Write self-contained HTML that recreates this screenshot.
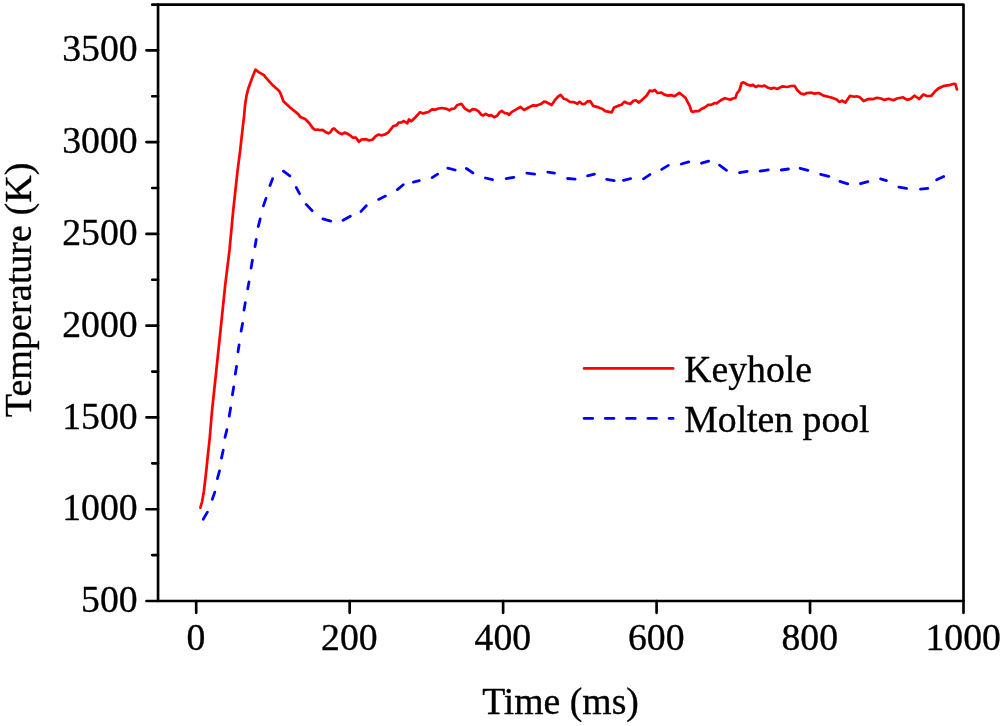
<!DOCTYPE html>
<html lang="en">
<head>
<meta charset="utf-8">
<title>Temperature vs Time</title>
<style>
html,body{margin:0;padding:0;background:#fff;}
body{width:1004px;height:726px;overflow:hidden;}
svg{display:block;}
text{font-family:"Liberation Serif","Times New Roman",serif;font-size:37.7px;fill:#000;stroke:#000;stroke-width:0.35px;stroke-linejoin:round;}
.ax{stroke:#000;stroke-width:2.667;fill:none;stroke-linecap:round;stroke-linejoin:round;}
.red{stroke:#ff0000;stroke-width:2.7;fill:none;stroke-linecap:round;stroke-linejoin:round;}
.blue{stroke:#0000ff;stroke-width:2.8;fill:none;stroke-linecap:round;stroke-linejoin:round;}
</style>
</head>
<body>
<svg width="1004" height="726" viewBox="0 0 1004 726">
<rect x="0" y="0" width="1004" height="726" fill="#ffffff"/>

<g class="ax">
<path d="M158.05 4.70 H963.50 V601.00 H158.05 Z"/>
<path d="M158.05 601.00H146.45M158.05 509.23H146.45M158.05 417.45H146.45M158.05 325.68H146.45M158.05 233.90H146.45M158.05 142.12H146.45M158.05 50.35H146.45M158.05 555.11H152.25M158.05 463.34H152.25M158.05 371.56H152.25M158.05 279.79H152.25M158.05 188.01H152.25M158.05 96.24H152.25M158.05 4.70H152.25M196.20 601.00V612.85M349.66 601.00V612.85M503.12 601.00V612.85M656.58 601.00V612.85M810.04 601.00V612.85M963.50 601.00V612.85"/>
</g>
<g text-anchor="end">
<text x="137.6" y="612.10">500</text>
<text x="137.6" y="520.33">1000</text>
<text x="137.6" y="428.55">1500</text>
<text x="137.6" y="336.78">2000</text>
<text x="137.6" y="245.00">2500</text>
<text x="137.6" y="153.22">3000</text>
<text x="137.6" y="61.45">3500</text>
</g>
<g text-anchor="middle">
<text x="195.90" y="650.1">0</text>
<text x="349.36" y="650.1">200</text>
<text x="502.82" y="650.1">400</text>
<text x="656.28" y="650.1">600</text>
<text x="809.74" y="650.1">800</text>
<text x="963.20" y="650.1">1000</text>
<text x="560.5" y="713.6">Time (ms)</text>
<text transform="translate(31.3 289.9) rotate(-90)" x="0" y="0" style="font-size:38.15px">Temperature (K)</text>
</g>
<path class="red" d="M584.1 368.4H673.1"/>
<path class="blue" d="M584.1 418.4H673.1" stroke-dasharray="8.6 12.65"/>
<text x="684.3" y="381.9">Keyhole</text>
<text x="684.3" y="431.6">Molten pool</text>
<path class="red" d="M200.4 507.7 L202.1 501.6 L203.8 491.9 L205.1 480.9 L206.5 468.5 L208.2 452.0 L209.7 438.3 L212.0 411.0 L215.1 382.0 L220.7 328.5 L225.2 285.1 L227.2 268.9 L229.5 250.0 L233.1 211.6 L237.6 170.4 L240.2 150.2 L241.5 138.5 L242.9 126.1 L244.2 115.1 L245.0 105.5 L245.7 100.7 L246.7 94.8 L248.4 88.2 L250.5 82.5 L252.7 76.5 L255.4 69.7 L259.1 72.3 L264.0 75.1 L265.4 77.2 L273.1 85.6 L278.7 90.4 L280.1 92.5 L283.6 101.6 L289.8 107.2 L298.2 114.1 L300.3 116.9 L305.2 119.0 L309.3 123.2 L312.8 128.1 L314.9 129.8 L317.7 129.5 L320.5 130.2 L322.6 129.9 L326.0 132.3 L328.4 133.3 L330.5 132.1 L332.6 129.0 L334.1 128.4 L336.8 131.1 L339.8 133.3 L342.2 134.1 L344.6 132.6 L347.0 133.5 L350.6 135.7 L353.0 137.7 L356.0 137.7 L359.0 141.9 L361.4 139.5 L366.2 139.2 L369.1 140.5 L372.7 139.5 L375.7 136.2 L378.7 134.5 L381.1 135.3 L384.7 134.7 L388.3 132.3 L390.7 129.3 L393.1 126.3 L396.7 125.1 L398.5 122.7 L401.5 122.4 L403.9 121.0 L407.3 123.3 L408.9 119.4 L411.3 121.3 L414.7 118.0 L420.1 112.2 L423.1 113.4 L428.5 112.0 L432.1 109.3 L435.4 109.7 L438.4 108.5 L442.0 108.0 L446.8 108.8 L449.4 110.3 L451.6 108.9 L454.6 108.5 L457.0 105.3 L461.4 103.8 L464.8 108.5 L469.6 111.3 L472.6 109.1 L475.6 109.5 L478.6 111.3 L481.5 114.9 L483.3 115.4 L485.7 113.9 L488.7 115.7 L491.1 115.1 L494.1 117.2 L497.1 115.7 L499.5 112.4 L501.7 110.9 L504.9 113.1 L507.3 113.3 L509.1 114.9 L511.5 112.1 L516.3 109.4 L520.5 107.0 L524.1 110.0 L527.7 108.0 L533.1 105.3 L536.7 105.6 L540.9 104.1 L543.8 101.7 L546.0 101.8 L548.4 103.3 L551.7 105.1 L555.0 100.0 L558.0 96.7 L560.6 94.8 L564.0 98.8 L567.0 99.7 L570.0 102.0 L573.6 102.1 L577.4 103.8 L579.6 101.8 L582.2 104.1 L584.6 103.9 L587.4 101.4 L590.3 101.2 L593.3 105.9 L597.5 107.1 L602.3 108.9 L605.3 111.1 L611.7 112.3 L614.1 107.4 L617.9 105.9 L621.5 104.7 L624.5 101.8 L627.5 103.3 L630.5 103.9 L633.5 100.8 L635.9 100.3 L638.9 102.6 L642.5 99.4 L646.7 95.5 L649.7 90.7 L652.7 91.2 L654.8 89.8 L657.4 93.0 L661.4 92.6 L664.4 94.6 L668.0 95.6 L671.6 95.2 L674.6 96.2 L679.4 92.9 L682.4 95.3 L685.4 97.7 L687.8 102.4 L689.6 105.7 L691.4 111.1 L692.9 112.1 L695.6 111.1 L698.6 111.1 L701.5 109.0 L705.1 107.3 L708.1 104.9 L711.1 104.9 L714.7 103.0 L716.5 103.3 L720.7 100.3 L724.9 98.2 L730.3 99.7 L732.7 98.5 L735.4 98.0 L736.9 93.4 L739.3 90.5 L741.7 83.0 L743.5 82.4 L747.1 84.5 L750.7 85.6 L752.9 84.8 L755.7 86.9 L758.5 85.7 L761.5 86.3 L764.6 85.7 L767.6 87.5 L771.4 88.8 L773.8 87.8 L777.4 89.0 L782.2 86.4 L787.0 87.0 L791.2 86.0 L794.5 85.8 L797.2 90.0 L800.8 93.5 L804.1 94.4 L806.8 93.0 L811.5 92.7 L814.5 93.6 L818.7 93.0 L823.5 95.6 L831.3 97.5 L836.7 99.5 L839.1 101.9 L842.1 100.7 L845.4 102.5 L849.9 95.9 L854.1 96.8 L856.5 96.3 L859.5 97.1 L863.7 101.1 L868.5 98.9 L872.7 99.2 L877.1 97.7 L880.8 98.5 L884.4 99.9 L888.6 98.7 L893.4 100.2 L897.0 98.5 L903.0 97.3 L907.2 99.9 L910.8 98.7 L914.4 95.7 L919.2 99.0 L923.3 94.5 L926.9 96.0 L931.1 96.0 L934.7 91.8 L938.3 88.5 L943.1 86.2 L949.1 85.2 L953.9 83.8 L955.4 84.1 L956.9 89.4"/>
<path class="blue" d="M203.2 519.2 L207.4 512.1 M212.3 499.3 L214.8 492.1 M217.4 478.6 L219.5 470.9 M221.5 458.1 L223.2 450.2 M225.0 437.3 L226.9 429.6 M229.2 416.2 L230.6 407.9 M232.4 394.9 L233.7 386.9 M235.3 374.0 L236.6 366.3 M238.0 351.9 L239.1 345.0 M241.1 331.2 L242.6 323.3 M244.0 310.0 L245.3 302.7 M247.7 288.9 L249.0 282.0 M251.1 268.1 L252.4 260.2 M255.0 246.5 L256.2 239.4 M258.3 226.5 L260.2 218.9 M263.4 205.9 L266.0 198.4 M270.0 185.5 L272.6 178.7 M283.4 171.2 L289.8 175.9 M296.2 187.4 L299.5 193.7 M306.2 204.4 L312.2 210.7 M322.9 218.9 L330.7 221.1 M343.1 220.3 L350.3 216.3 M361.0 211.4 L366.3 205.8 M378.6 199.4 L385.4 196.1 M397.4 189.6 L403.2 184.7 M413.4 182.1 L419.3 180.7 M432.1 177.6 L437.6 174.1 M447.8 168.1 L455.2 170.0 M466.4 168.5 L472.9 172.9 M485.5 178.0 L492.5 179.7 M506.2 178.6 L513.8 177.3 M526.9 173.1 L534.7 174.1 M547.8 172.2 L554.5 173.1 M567.6 178.5 L575.1 179.1 M587.6 175.8 L594.4 174.1 M606.7 179.3 L614.2 180.7 M623.4 180.3 L630.6 178.6 M643.5 178.8 L649.8 174.6 M661.7 169.4 L668.3 165.4 M681.3 164.0 L688.7 161.9 M701.5 163.2 L708.6 161.2 M719.5 165.2 L726.5 170.3 M739.5 172.6 L747.2 171.4 M760.1 171.1 L768.3 169.9 M781.3 170.0 L788.4 169.0 M800.2 168.3 L807.9 170.3 M820.7 174.3 L828.8 176.3 M839.9 181.4 L847.7 183.8 M860.5 183.7 L867.9 181.7 M880.6 178.9 L886.4 180.6 M898.9 187.1 L906.5 188.4 M920.5 189.2 L927.8 188.4 M936.7 179.8 L943.7 176.5"/>
</svg>
</body>
</html>
